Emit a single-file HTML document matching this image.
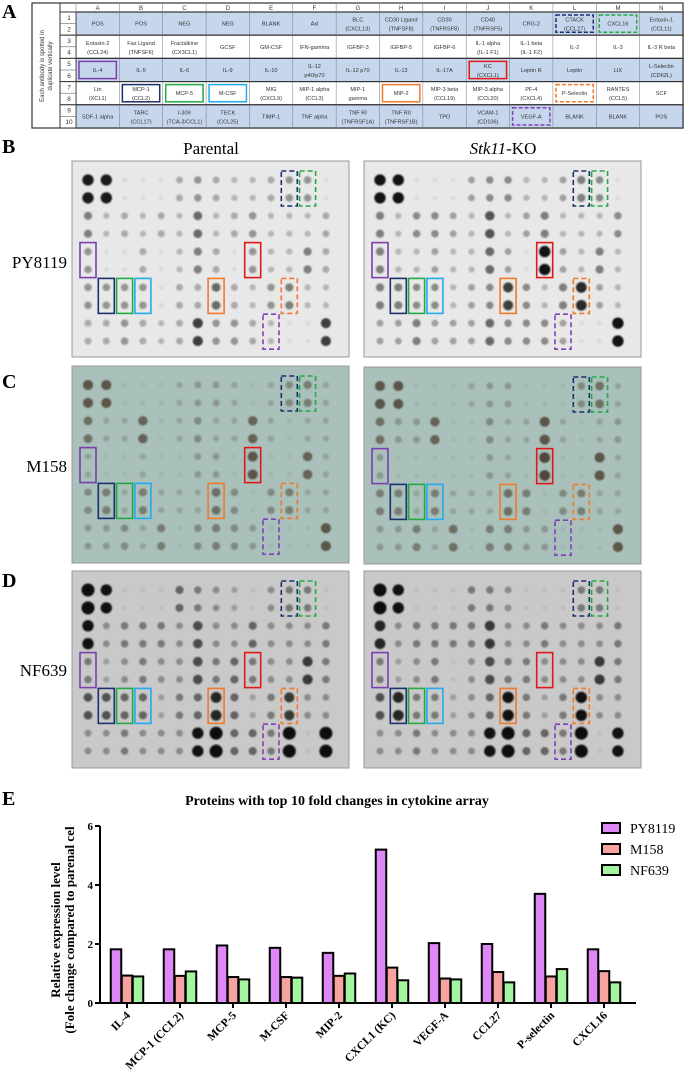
<!DOCTYPE html>
<html><head><meta charset="utf-8"><style>
html,body{margin:0;padding:0;background:#fff;}
svg{display:block;}
.ser{font-family:"Liberation Serif",serif;}
.san{font-family:"Liberation Sans",sans-serif;}
</style></head><body>
<svg id="fig" width="685" height="1086" viewBox="0 0 685 1086" xmlns="http://www.w3.org/2000/svg">
<defs>
<filter id="blur" x="-50%" y="-50%" width="200%" height="200%"><feGaussianBlur stdDeviation="0.9"/></filter>
</defs>
<text x="2" y="18" class="ser" font-size="20" font-weight="bold">A</text>
<g id="table"></g>
<text x="2" y="153" class="ser" font-size="20" font-weight="bold">B</text>
<text x="211" y="154" class="ser" font-size="17" text-anchor="middle">Parental</text>
<text x="503" y="154" class="ser" font-size="17" text-anchor="middle"><tspan font-style="italic">Stk11</tspan>-KO</text>
<text x="67" y="268" class="ser" font-size="17" text-anchor="end">PY8119</text>
<text x="2" y="388" class="ser" font-size="20" font-weight="bold">C</text>
<text x="67" y="472" class="ser" font-size="17" text-anchor="end">M158</text>
<text x="2" y="587" class="ser" font-size="20" font-weight="bold">D</text>
<text x="67" y="676" class="ser" font-size="17" text-anchor="end">NF639</text>
<g id="blots"></g>
<text x="2" y="805" class="ser" font-size="20" font-weight="bold">E</text>
<text x="337" y="805" class="ser" font-size="14" font-weight="bold" text-anchor="middle">Proteins with top 10 fold changes in cytokine array</text>
<g id="chart"></g>
</svg>
<script>
// ---------- chart data ----------
const categories = ["IL-4","MCP-1 (CCL2)","MCP-5","M-CSF","MIP-2","CXCL1 (KC)","VEGF-A","CCL27","P-selectin","CXCL16"];
const seriesNames = ["PY8119","M158","NF639"];
const py8119 = [1.82,1.82,1.95,1.87,1.70,5.20,2.03,2.00,3.70,1.82];
const m158 = [0.93,0.92,0.88,0.88,0.92,1.20,0.83,1.05,0.90,1.08];
const nf639 = [0.90,1.07,0.80,0.86,1.00,0.77,0.80,0.70,1.15,0.70];
const yTicks = [0,2,4,6];

// ---------- table data ----------
const tableGroups = [
 ["POS","POS","NEG","NEG","BLANK","Axl","BLC|(CXCL13)","CD30 Ligand|(TNFSF8)","CD30|(TNFRSF8)","CD40|(TNFRSF5)","CRG-2","CTACK|(CCL27)","CXCL16","Eotaxin-1|(CCL11)"],
 ["Eotaxin-2|(CCL24)","Fas Ligand|(TNFSF6)","Fractalkine|(CX3CL1)","GCSF","GM-CSF","IFN-gamma","IGFBP-3","IGFBP-5","IGFBP-6","IL-1 alpha|(IL-1 F1)","IL-1 beta|(IL-1 F2)","IL-2","IL-3","IL-3 R beta"],
 ["IL-4","IL-5","IL-6","IL-9","IL-10","IL-12|p40/p70","IL-12 p70","IL-13","IL-17A","KC|(CXCL1)","Leptin R","Leptin","LIX","L-Selectin|(CD62L)"],
 ["Ltn|(XCL1)","MCP-1|(CCL2)","MCP-5","M-CSF","MIG|(CXCL9)","MIP-1 alpha|(CCL3)","MIP-1|gamma","MIP-2","MIP-3 beta|(CCL19)","MIP-3 alpha|(CCL20)","PF-4|(CXCL4)","P-Selectin","RANTES|(CCL5)","SCF"],
 ["SDF-1 alpha","TARC|(CCL17)","I-309|(TCA-3/CCL1)","TECK|(CCL25)","TIMP-1","TNF alpha","TNF RI|(TNFRSF1A)","TNF RII|(TNFRSF1B)","TPO","VCAM-1|(CD106)","VEGF-A","BLANK","BLANK","POS"]
];
const colLetters = ["A","B","C","D","E","F","G","H","I","J","K","L","M","N"];
const highlights = [[0,2,"#7b3fb0",0],[1,3,"#1c2f6e",0],[2,3,"#22aa44",0],[3,3,"#22aaee",0],[7,3,"#f07a2a",0],[9,2,"#e01818",0],[11,3,"#f07a2a",1],[10,4,"#8040b8",1],[11,0,"#1c2f6e",1],[12,0,"#22aa44",1]];

// ---------- blot intensities ----------
const blotB1 = ["99000232112330","41212151231112","30020142031142","33330225213411","22321273321007"];
const blotB2 = ["99000233112430","41332161241113","41121152092141","44331237314821","22422253332009"];
const blotC1 = ["77000122101341","51160131161011","10010022070061","34141115303411","22314034320007"];
const blotC2 = ["77000122000351","52260031171012","20000021080071","44141115403411","22415044220007"];
const blotD1 = ["X9000432102330","92333262242223","31232263432273","55441348413722","2232229X443X0X"];
const blotD2 = ["X9000332000330","82333372232223","31230263322273","58331249313922","2232229X443X09"];

const NS="http://www.w3.org/2000/svg";
function mk(tag, attrs, parent){const e=document.createElementNS(NS,tag);for(const k in attrs)e.setAttribute(k,attrs[k]);parent.appendChild(e);return e;}

(function(){
 const g=document.getElementById('table');
 const x0=32,x1=683,numX=60,cx0=76,y0=3,hy=12,gh=23.2;
 const cw=(x1-cx0)/14;
 mk('rect',{x:x0,y:y0,width:x1-x0,height:125,fill:'#fff',stroke:'#333','stroke-width':1.2},g);
 for(let gi=0;gi<5;gi++){
  const gy=hy+gi*gh;
  const r=mk('rect',{x:cx0,y:gy,width:x1-cx0,height:gh,fill:gi%2===0?'#c6d6ec':'#fff',stroke:'#333','stroke-width':1.2},g);
  
  
  mk('rect',{x:numX,y:gy,width:cx0-numX,height:gh,fill:'#fff',stroke:'#333','stroke-width':1},g);
  mk('line',{x1:numX,x2:cx0,y1:gy+gh/2,y2:gy+gh/2,stroke:'#666','stroke-width':0.6},g);
  for(let k=0;k<2;k++){
   const t=mk('text',{x:numX+9,y:gy+gh/4*(1+2*k)+2,'font-size':6.5,'text-anchor':'middle',class:'san',fill:'#333'},g);
   t.textContent=String(gi*2+k+1);
   
   
  }
  for(let c=0;c<14;c++){
   const cx=cx0+c*cw;
   mk('line',{x1:cx,x2:cx,y1:gy,y2:gy+gh,stroke:'#777','stroke-width':0.5},g);
   const parts=tableGroups[gi][c].split('|');
   parts.forEach((p,pi)=>{
    const t=mk('text',{x:cx+cw/2,y:gy+gh/2+2+(parts.length===2?(pi===0?-4:5):0),'font-size':5.6,'text-anchor':'middle',class:'san',fill:'#333'},g);
    t.textContent=p;
    
    
   });
  }
 }
 mk('line',{x1:numX,x2:numX,y1:y0,y2:128,stroke:'#333','stroke-width':1},g);
 for(let c=0;c<14;c++){
  const t=mk('text',{x:cx0+c*cw+cw/2,y:10,'font-size':6,'text-anchor':'middle',class:'san',fill:'#333'},g);
  t.textContent=colLetters[c];
  
  
  mk('line',{x1:cx0+c*cw,x2:cx0+c*cw,y1:y0,y2:hy,stroke:'#777','stroke-width':0.5},g);
 }
 const lab=mk('text',{transform:'translate(44,66) rotate(-90)','font-size':6,'text-anchor':'middle',class:'san',fill:'#333'},g);
 lab.textContent='Each antibody is spotted in';
 
 
 const lab2=mk('text',{transform:'translate(52,66) rotate(-90)','font-size':6,'text-anchor':'middle',class:'san',fill:'#333'},g);
 lab2.textContent='duplicate vertically';
 
 
 highlights.forEach(h=>{
  const r=mk('rect',{x:cx0+h[0]*cw+3,y:hy+h[1]*gh+3,width:cw-6,height:gh-6,fill:'none',stroke:h[2],'stroke-width':1.5},g);
  if(h[3])r.setAttribute('stroke-dasharray','4 2');
  
  
 });
})();

(function(){
 const g=document.getElementById('blots');
 const panels=[
  {x:72,y:161,w:277,h:196,bg:'#e8e8e8',dot:[20,20,20],data:blotB1,name:'blot-py8119-parental'},
  {x:364,y:161,w:277,h:196,bg:'#e8e8e8',dot:[15,15,15],data:blotB2,name:'blot-py8119-ko'},
  {x:72,y:366,w:277,h:197,bg:'#a9c0bb',dot:[70,55,40],data:blotC1,name:'blot-m158-parental'},
  {x:364,y:367,w:277,h:197,bg:'#a9c0bb',dot:[70,55,40],data:blotC2,name:'blot-m158-ko'},
  {x:72,y:571,w:277,h:197,bg:'#c9c9c9',dot:[10,10,10],data:blotD1,name:'blot-nf639-parental'},
  {x:364,y:571,w:277,h:197,bg:'#c9c9c9',dot:[10,10,10],data:blotD2,name:'blot-nf639-ko'}
 ];
 panels.forEach(p=>{
  const pg=mk('g',{},g);
  
  
  mk('rect',{x:p.x,y:p.y,width:p.w,height:p.h,fill:p.bg,stroke:'#999','stroke-width':1},pg);
  const colX=c=>p.x+16+c*18.3;
  const rowY=r=>p.y+19+r*17.9;
  p.data.forEach((row,ri)=>{
   for(let c=0;c<14;c++){
    const ch=row[c];const v=ch==='X'?12:parseInt(ch,10);
    const op=v===0?0.06:Math.min(1,0.12+v*0.095);
    const rad=v===0?2.5:(v>=12?6.5:2.8+v*0.32);
    for(let k=0;k<2;k++){
     const d=mk('circle',{cx:colX(c),cy:rowY(ri*2+k),r:rad,fill:`rgb(${p.dot.join(',')})`,'fill-opacity':op,filter:'url(#blur)'},pg);
     
     
    }
   }
  });
  highlights.forEach(h=>{
   const r=mk('rect',{x:colX(h[0])-8,y:rowY(h[1]*2)-9,width:16,height:35,fill:'none',stroke:h[2],'stroke-width':1.6},pg);
   if(h[3])r.setAttribute('stroke-dasharray','5 3');
   
   
  });
 });
})();

(function(){
 const g=document.getElementById('chart');
 const axX=100,axEnd=636,y0=1003,unit=29.5,firstTick=127,step=53,bw=10.5;
 const yS=v=>y0-v*unit;
 const xS=i=>firstTick+i*step;
 const colors=["#dd88f5","#f7a3a0","#a3f5a0"];
 const series=[py8119,m158,nf639];
 series.forEach((s,si)=>{
  s.forEach((v,i)=>{
   const cx=xS(i)+(si-1)*11;
   const b=mk('rect',{x:cx-bw/2,y:yS(v),width:bw,height:y0-yS(v),fill:colors[si],stroke:'#000','stroke-width':2},g);
   
   
  });
 });
 const ya=mk('line',{x1:axX,x2:axX,y1:yS(6),y2:y0+1,stroke:'#000','stroke-width':2},g);
 
 
 const xa=mk('line',{x1:axX-1,x2:axEnd,y1:y0,y2:y0,stroke:'#000','stroke-width':2},g);
 
 
 yTicks.forEach(t=>{
  mk('line',{x1:axX-5,x2:axX,y1:yS(t),y2:yS(t),stroke:'#000','stroke-width':2},g);
  const tx=mk('text',{x:axX-7,y:yS(t)+4,'font-size':11,'font-weight':'bold','text-anchor':'end',class:'ser'},g);
  tx.textContent=String(t);
  
  
 });
 categories.forEach((c,i)=>{
  mk('line',{x1:xS(i),x2:xS(i),y1:y0,y2:y0+5,stroke:'#000','stroke-width':2},g);
  const tx=mk('text',{transform:`translate(${xS(i)+4},${y0+13}) rotate(-45)`,'font-size':11.5,'font-weight':'bold','text-anchor':'end',class:'ser'},g);
  tx.textContent=c;
  
  
 });
 const t1=mk('text',{transform:'translate(60,930) rotate(-90)','font-size':13,'font-weight':'bold','text-anchor':'middle',class:'ser'},g);
 t1.textContent='Relative expression level';
 
 
 const t2=mk('text',{transform:'translate(74,930) rotate(-90)','font-size':13,'font-weight':'bold','text-anchor':'middle',class:'ser'},g);
 t2.textContent='(Fole change compared to parenal cel';
 
 
 seriesNames.forEach((n,si)=>{
  const ly=828+si*21;
  const r=mk('rect',{x:602,y:ly-5,width:18,height:10,fill:colors[si],stroke:'#000','stroke-width':2},g);
  
  
  const tx=mk('text',{x:630,y:ly+5,'font-size':14,class:'ser'},g);
  tx.textContent=n;
  
  
 });
})();
</script>
</body></html>
